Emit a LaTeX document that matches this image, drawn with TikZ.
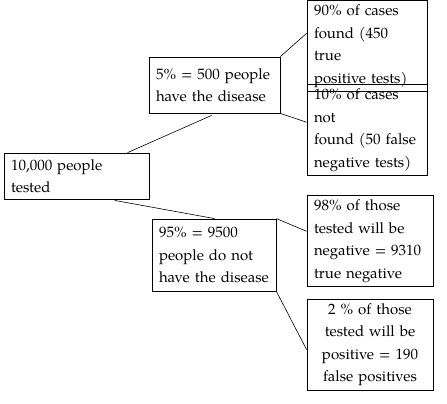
\documentclass[tikz,border=0pt]{standalone}
\usepackage{fontspec}
\setmainfont{TeX Gyre Pagella}
\usetikzlibrary{calc}
\begin{document}
\begin{tikzpicture}[x=1pt,y=-1pt,
  box/.style={draw,line width=0.8pt,rectangle,inner xsep=7pt,inner ysep=4pt,align=left,font=\fontsize{15}{22.5}\selectfont},
  ln/.style={line width=0.6pt}]
\useasboundingbox (0,0) rectangle (447,404);
\newcommand{\bx}[7]{\node[box,#7,minimum width=#4-#2,minimum height=#5-#3,text width=#4-#2-14] (#1) at ({(#2+#4)/2},{(#3+#5)/2}) {#6};}
\bx{A}{4}{153}{149}{199}{10,000 people tested}{}
\bx{B}{149}{57}{280}{113}{5\% = 500 people\\have the disease}{}
\bx{C}{307}{10}{427}{82}{90\% of cases\\found (450 true\\positive tests)}{}
\bx{D}{307}{97}{427}{163}{10\% of cases not\\found (50 false\\negative tests)}{}
\bx{E}{152}{219}{276}{291}{95\% = 9500\\people do not\\have the disease}{}
\bx{F}{307}{201}{433}{281}{98\% of those\\tested will be\\negative = 9310\\true negative}{}
\bx{G}{307}{299}{433}{390}{2 \% of those\\tested will be\\positive = 190\\false positives}{align=center}
\draw[ln] ($(A.north west)+(124,0)$) -- ($(B.south west)+(63,2)$);
\draw[ln] ($(A.south west)+(111,1)$) -- ($(E.north west)+(63,0)$);
\draw[ln] (B.north east) -- ($(C.north west)+(0,33)$);
\draw[ln] (B.south east) -- ($(D.north west)+(0,38)$);
\draw[ln] (E.north east) -- ($(F.north west)+(0,36)$);
\draw[ln] (E.south east) -- ($(G.north west)+(0,51)$);
\end{tikzpicture}
\end{document}
